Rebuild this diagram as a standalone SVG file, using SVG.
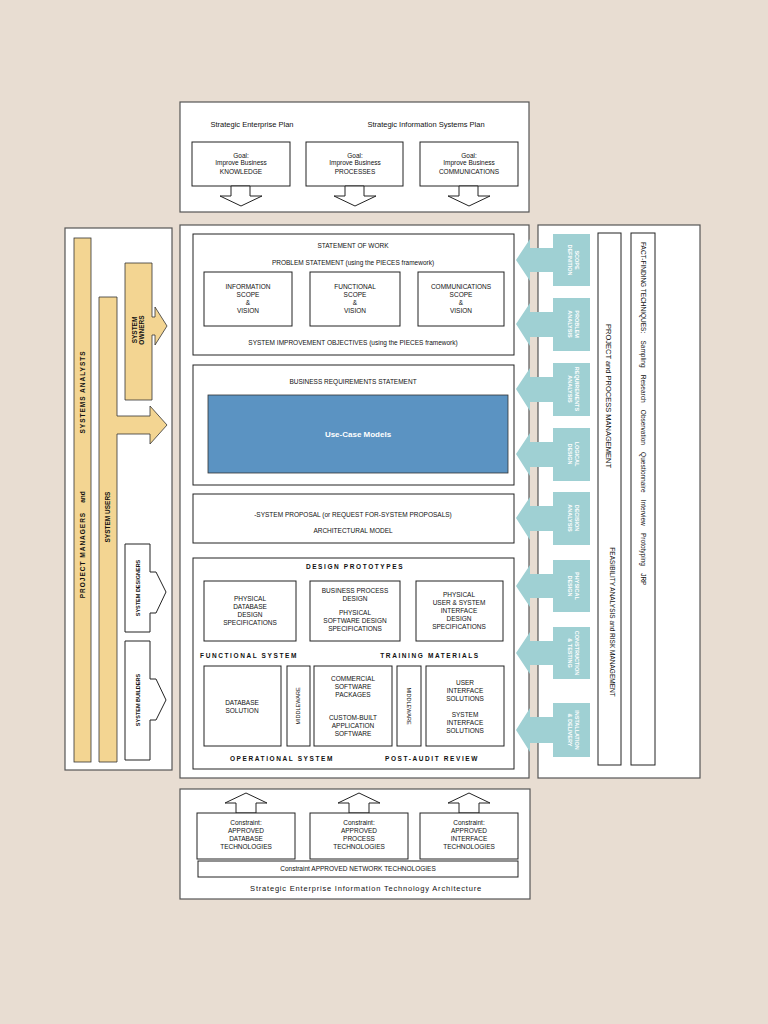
<svg xmlns="http://www.w3.org/2000/svg" width="768" height="1024" viewBox="0 0 768 1024">
<style>
.pnl{fill:#fff;stroke:#555;stroke-width:1.2}
.bx{fill:#fff;stroke:#222;stroke-width:1}
.ar{fill:#fff;stroke:#222;stroke-width:1}
.tan{fill:#f3d592;stroke:#333;stroke-width:0.8}
.teal{fill:#9fd0d3}
text{font-family:"Liberation Sans",Arial,sans-serif;font-size:6.5px;fill:#111;text-anchor:middle}
.b{font-weight:bold}
.sp{letter-spacing:1.6px;font-weight:bold;font-size:6.5px}
.w text{fill:#fff;font-weight:bold;font-size:5.5px}
.t8{font-size:7.5px}
</style>
<rect width="768" height="1024" fill="#e8ddd2"/>

<g id="top">
<rect class="pnl" x="180" y="102" width="349" height="110"/>
<text class="t8" x="252" y="127">Strategic Enterprise Plan</text>
<text class="t8" x="426" y="127">Strategic Information Systems Plan</text>
<rect class="bx" x="192" y="142" width="98" height="44"/>
<rect class="bx" x="306" y="142" width="97" height="44"/>
<rect class="bx" x="420" y="142" width="98" height="44"/>
<text x="241" y="158">Goal:</text><text x="241" y="165">Improve Business</text><text x="241" y="174">KNOWLEDGE</text>
<text x="355" y="158">Goal:</text><text x="355" y="165">Improve Business</text><text x="355" y="174">PROCESSES</text>
<text x="469" y="158">Goal:</text><text x="469" y="165">Improve Business</text><text x="469" y="174">COMMUNICATIONS</text>
<polygon class="ar" points="231,186 250,186 250,196 262,196 241,206 220,196 231,196"/>
<polygon class="ar" points="345,186 364,186 364,196 376,196 355,206 334,196 345,196"/>
<polygon class="ar" points="459,186 478,186 478,196 490,196 469,206 448,196 459,196"/>
</g>

<g id="left">
<rect class="pnl" x="65" y="228" width="107" height="542"/>
<rect class="tan" x="74" y="238" width="17" height="524"/>
<path class="tan" d="M99,297 H117 V416 H150 V406 L167,425 L150,444 V434 H117 V762 H99 Z"/>
<path class="tan" d="M125,263 H152 V317 H155 V307 L167,326 L155,345 V335 H152 V400 H125 Z"/>
<path class="ar" d="M125,544 H150 V572 H156 L166,592 L156,613 H150 V632 H125 Z"/>
<path class="ar" d="M125,641 H150 V679 H156 L166,700 L156,720 H150 V760 H125 Z"/>
<g class="b">
<text transform="translate(85,555) rotate(-90)" style="letter-spacing:1px">PROJECT   MANAGERS</text>
<text transform="translate(85,497) rotate(-90)">and</text>
<text transform="translate(85,392) rotate(-90)" style="letter-spacing:1px">SYSTEMS   ANALYSTS</text>
<text transform="translate(110,517) rotate(-90)">SYSTEM USERS</text>
<text transform="translate(137,330) rotate(-90)">SYSTEM</text>
<text transform="translate(144,330) rotate(-90)">OWNERS</text>
<text transform="translate(140,588) rotate(-90)" style="font-size:5.5px">SYSTEM DESIGNERS</text>
<text transform="translate(140,700) rotate(-90)" style="font-size:5.5px">SYSTEM BUILDERS</text>
</g>
</g>

<g id="middle">
<rect class="pnl" x="180" y="225" width="349" height="553"/>
<g id="sow">
<rect class="bx" x="193" y="234" width="321" height="121"/>
<text x="353" y="248">STATEMENT OF WORK</text>
<text x="353" y="265">PROBLEM STATEMENT (using the PIECES framework)</text>
<rect class="bx" x="204" y="272" width="88" height="54"/>
<rect class="bx" x="310" y="272" width="90" height="54"/>
<rect class="bx" x="418" y="272" width="86" height="54"/>
<text x="248" y="289">INFORMATION</text><text x="248" y="297">SCOPE</text><text x="248" y="305">&amp;</text><text x="248" y="313">VISION</text>
<text x="355" y="289">FUNCTIONAL</text><text x="355" y="297">SCOPE</text><text x="355" y="305">&amp;</text><text x="355" y="313">VISION</text>
<text x="461" y="289">COMMUNICATIONS</text><text x="461" y="297">SCOPE</text><text x="461" y="305">&amp;</text><text x="461" y="313">VISION</text>
<text x="353" y="345">SYSTEM IMPROVEMENT OBJECTIVES (using the PIECES framework)</text>
</g>
<g id="brs">
<rect class="bx" x="193" y="365" width="321" height="120"/>
<text x="353" y="384">BUSINESS REQUIREMENTS STATEMENT</text>
<rect x="208" y="395" width="300" height="78" fill="#5b93c2" stroke="#333" stroke-width="0.8"/>
<text x="358" y="437" class="b" style="fill:#fff;font-size:8px">Use-Case Models</text>
</g>
<g id="proposal">
<rect class="bx" x="193" y="494" width="321" height="49"/>
<text x="353" y="517">-SYSTEM PROPOSAL  (or  REQUEST FOR-SYSTEM PROPOSALS)</text>
<text x="353" y="533">ARCHITECTURAL MODEL</text>
</g>
<g id="design">
<rect class="bx" x="193" y="558" width="321" height="211"/>
<text class="sp" x="355" y="569">DESIGN PROTOTYPES</text>
<rect class="bx" x="204" y="581" width="92" height="60"/>
<rect class="bx" x="310" y="581" width="90" height="60"/>
<rect class="bx" x="416" y="581" width="87" height="60"/>
<text x="250" y="601">PHYSICAL</text><text x="250" y="609">DATABASE</text><text x="250" y="617">DESIGN</text><text x="250" y="625">SPECIFICATIONS</text>
<text x="355" y="593">BUSINESS PROCESS</text><text x="355" y="601">DESIGN</text><text x="355" y="615">PHYSICAL</text><text x="355" y="623">SOFTWARE DESIGN</text><text x="355" y="631">SPECIFICATIONS</text>
<text x="459" y="597">PHYSICAL</text><text x="459" y="605">USER &amp; SYSTEM</text><text x="459" y="613">INTERFACE</text><text x="459" y="621">DESIGN</text><text x="459" y="629">SPECIFICATIONS</text>
<text class="sp" x="249" y="658">FUNCTIONAL SYSTEM</text>
<text class="sp" x="430" y="658">TRAINING MATERIALS</text>
<rect class="bx" x="204" y="666" width="77" height="80"/>
<rect class="bx" x="287" y="666" width="23" height="80"/>
<rect class="bx" x="314" y="666" width="78" height="80"/>
<rect class="bx" x="397" y="666" width="24" height="80"/>
<rect class="bx" x="426" y="666" width="78" height="80"/>
<text x="242" y="705">DATABASE</text><text x="242" y="713">SOLUTION</text>
<text transform="translate(300,706) rotate(-90)" style="font-size:5.5px">MIDDLEWARE</text>
<text transform="translate(407,706) rotate(90)" style="font-size:5.5px">MIDDLEWARE</text>
<text x="353" y="681">COMMERCIAL</text><text x="353" y="689">SOFTWARE</text><text x="353" y="697">PACKAGES</text>
<text x="353" y="720">CUSTOM-BUILT</text><text x="353" y="728">APPLICATION</text><text x="353" y="736">SOFTWARE</text>
<text x="465" y="685">USER</text><text x="465" y="693">INTERFACE</text><text x="465" y="701">SOLUTIONS</text>
<text x="465" y="717">SYSTEM</text><text x="465" y="725">INTERFACE</text><text x="465" y="733">SOLUTIONS</text>
<text class="sp" x="282" y="761">OPERATIONAL SYSTEM</text>
<text class="sp" x="432" y="761">POST-AUDIT REVIEW</text>
</g>
</g>

<g id="right">
<rect class="pnl" x="538" y="225" width="162" height="553"/>
<g class="teal">
<path d="M553,234 H590 V286 H553 V272 H530 V281 L516,260 L530,239 V248 H553 Z"/>
<path d="M553,298 H590 V351 H553 V337 H530 V346 L516,324 L530,303 V312 H553 Z"/>
<path d="M553,363 H590 V416 H553 V402 H530 V411 L516,389 L530,368 V377 H553 Z"/>
<path d="M553,428 H590 V481 H553 V467 H530 V476 L516,454 L530,433 V442 H553 Z"/>
<path d="M553,492 H590 V545 H553 V531 H530 V540 L516,518 L530,497 V506 H553 Z"/>
<path d="M553,560 H590 V612 H553 V598 H530 V607 L516,586 L530,565 V574 H553 Z"/>
<path d="M553,627 H590 V679 H553 V665 H530 V674 L516,653 L530,632 V641 H553 Z"/>
<path d="M553,703 H590 V757 H553 V743 H530 V752 L516,730 L530,708 V717 H553 Z"/>
</g>
<g class="w">
<text transform="translate(575,260) rotate(90)">SCOPE</text><text transform="translate(568,260) rotate(90)">DEFINITION</text>
<text transform="translate(575,324) rotate(90)">PROBLEM</text><text transform="translate(568,324) rotate(90)">ANALYSIS</text>
<text transform="translate(575,389) rotate(90)">REQUIREMENTS</text><text transform="translate(568,389) rotate(90)">ANALYSIS</text>
<text transform="translate(575,454) rotate(90)">LOGICAL</text><text transform="translate(568,454) rotate(90)">DESIGN</text>
<text transform="translate(575,518) rotate(90)">DECISION</text><text transform="translate(568,518) rotate(90)">ANALYSIS</text>
<text transform="translate(575,586) rotate(90)">PHYSICAL</text><text transform="translate(568,586) rotate(90)">DESIGN</text>
<text transform="translate(575,653) rotate(90)">CONSTRUCTION</text><text transform="translate(568,653) rotate(90)">&amp; TESTING</text>
<text transform="translate(575,730) rotate(90)">INSTALLATION</text><text transform="translate(568,730) rotate(90)">&amp; DELIVERY</text>
</g>
<rect class="bx" x="598" y="233" width="23" height="532"/>
<rect class="bx" x="631" y="233" width="24" height="532"/>
<text class="t8" transform="translate(606,396) rotate(90)">PROJECT and PROCESS MANAGEMENT</text>
<text transform="translate(610,622) rotate(90)">FEASIBILITY ANALYSIS and RISK MANAGEMENT</text>
<text style="text-anchor:start" transform="translate(641,242) rotate(90)" xml:space="preserve">FACT-FINDING TECHNIQUES:    Sampling    Research    Observation    Questionnaire    Interview    Prototyping    JRP</text>
</g>

<g id="bottom">
<rect class="pnl" x="180" y="789" width="350" height="110"/>
<polygon class="ar" points="236,813 236,803 225,803 246,793 267,803 256,803 256,813"/>
<polygon class="ar" points="349,813 349,803 338,803 359,793 380,803 369,803 369,813"/>
<polygon class="ar" points="459,813 459,803 448,803 469,793 490,803 479,803 479,813"/>
<rect class="bx" x="197" y="813" width="98" height="46"/>
<rect class="bx" x="310" y="813" width="98" height="46"/>
<rect class="bx" x="420" y="813" width="98" height="46"/>
<text x="246" y="825">Constraint:</text><text x="246" y="833">APPROVED</text><text x="246" y="841">DATABASE</text><text x="246" y="849">TECHNOLOGIES</text>
<text x="359" y="825">Constraint:</text><text x="359" y="833">APPROVED</text><text x="359" y="841">PROCESS</text><text x="359" y="849">TECHNOLOGIES</text>
<text x="469" y="825">Constraint:</text><text x="469" y="833">APPROVED</text><text x="469" y="841">INTERFACE</text><text x="469" y="849">TECHNOLOGIES</text>
<rect class="bx" x="198" y="861" width="320" height="16"/>
<text x="358" y="871">Constraint APPROVED NETWORK TECHNOLOGIES</text>
<text class="t8" x="366" y="891" style="letter-spacing:0.8px">Strategic Enterprise Information Technology Architecture</text>
</g>
</svg>
